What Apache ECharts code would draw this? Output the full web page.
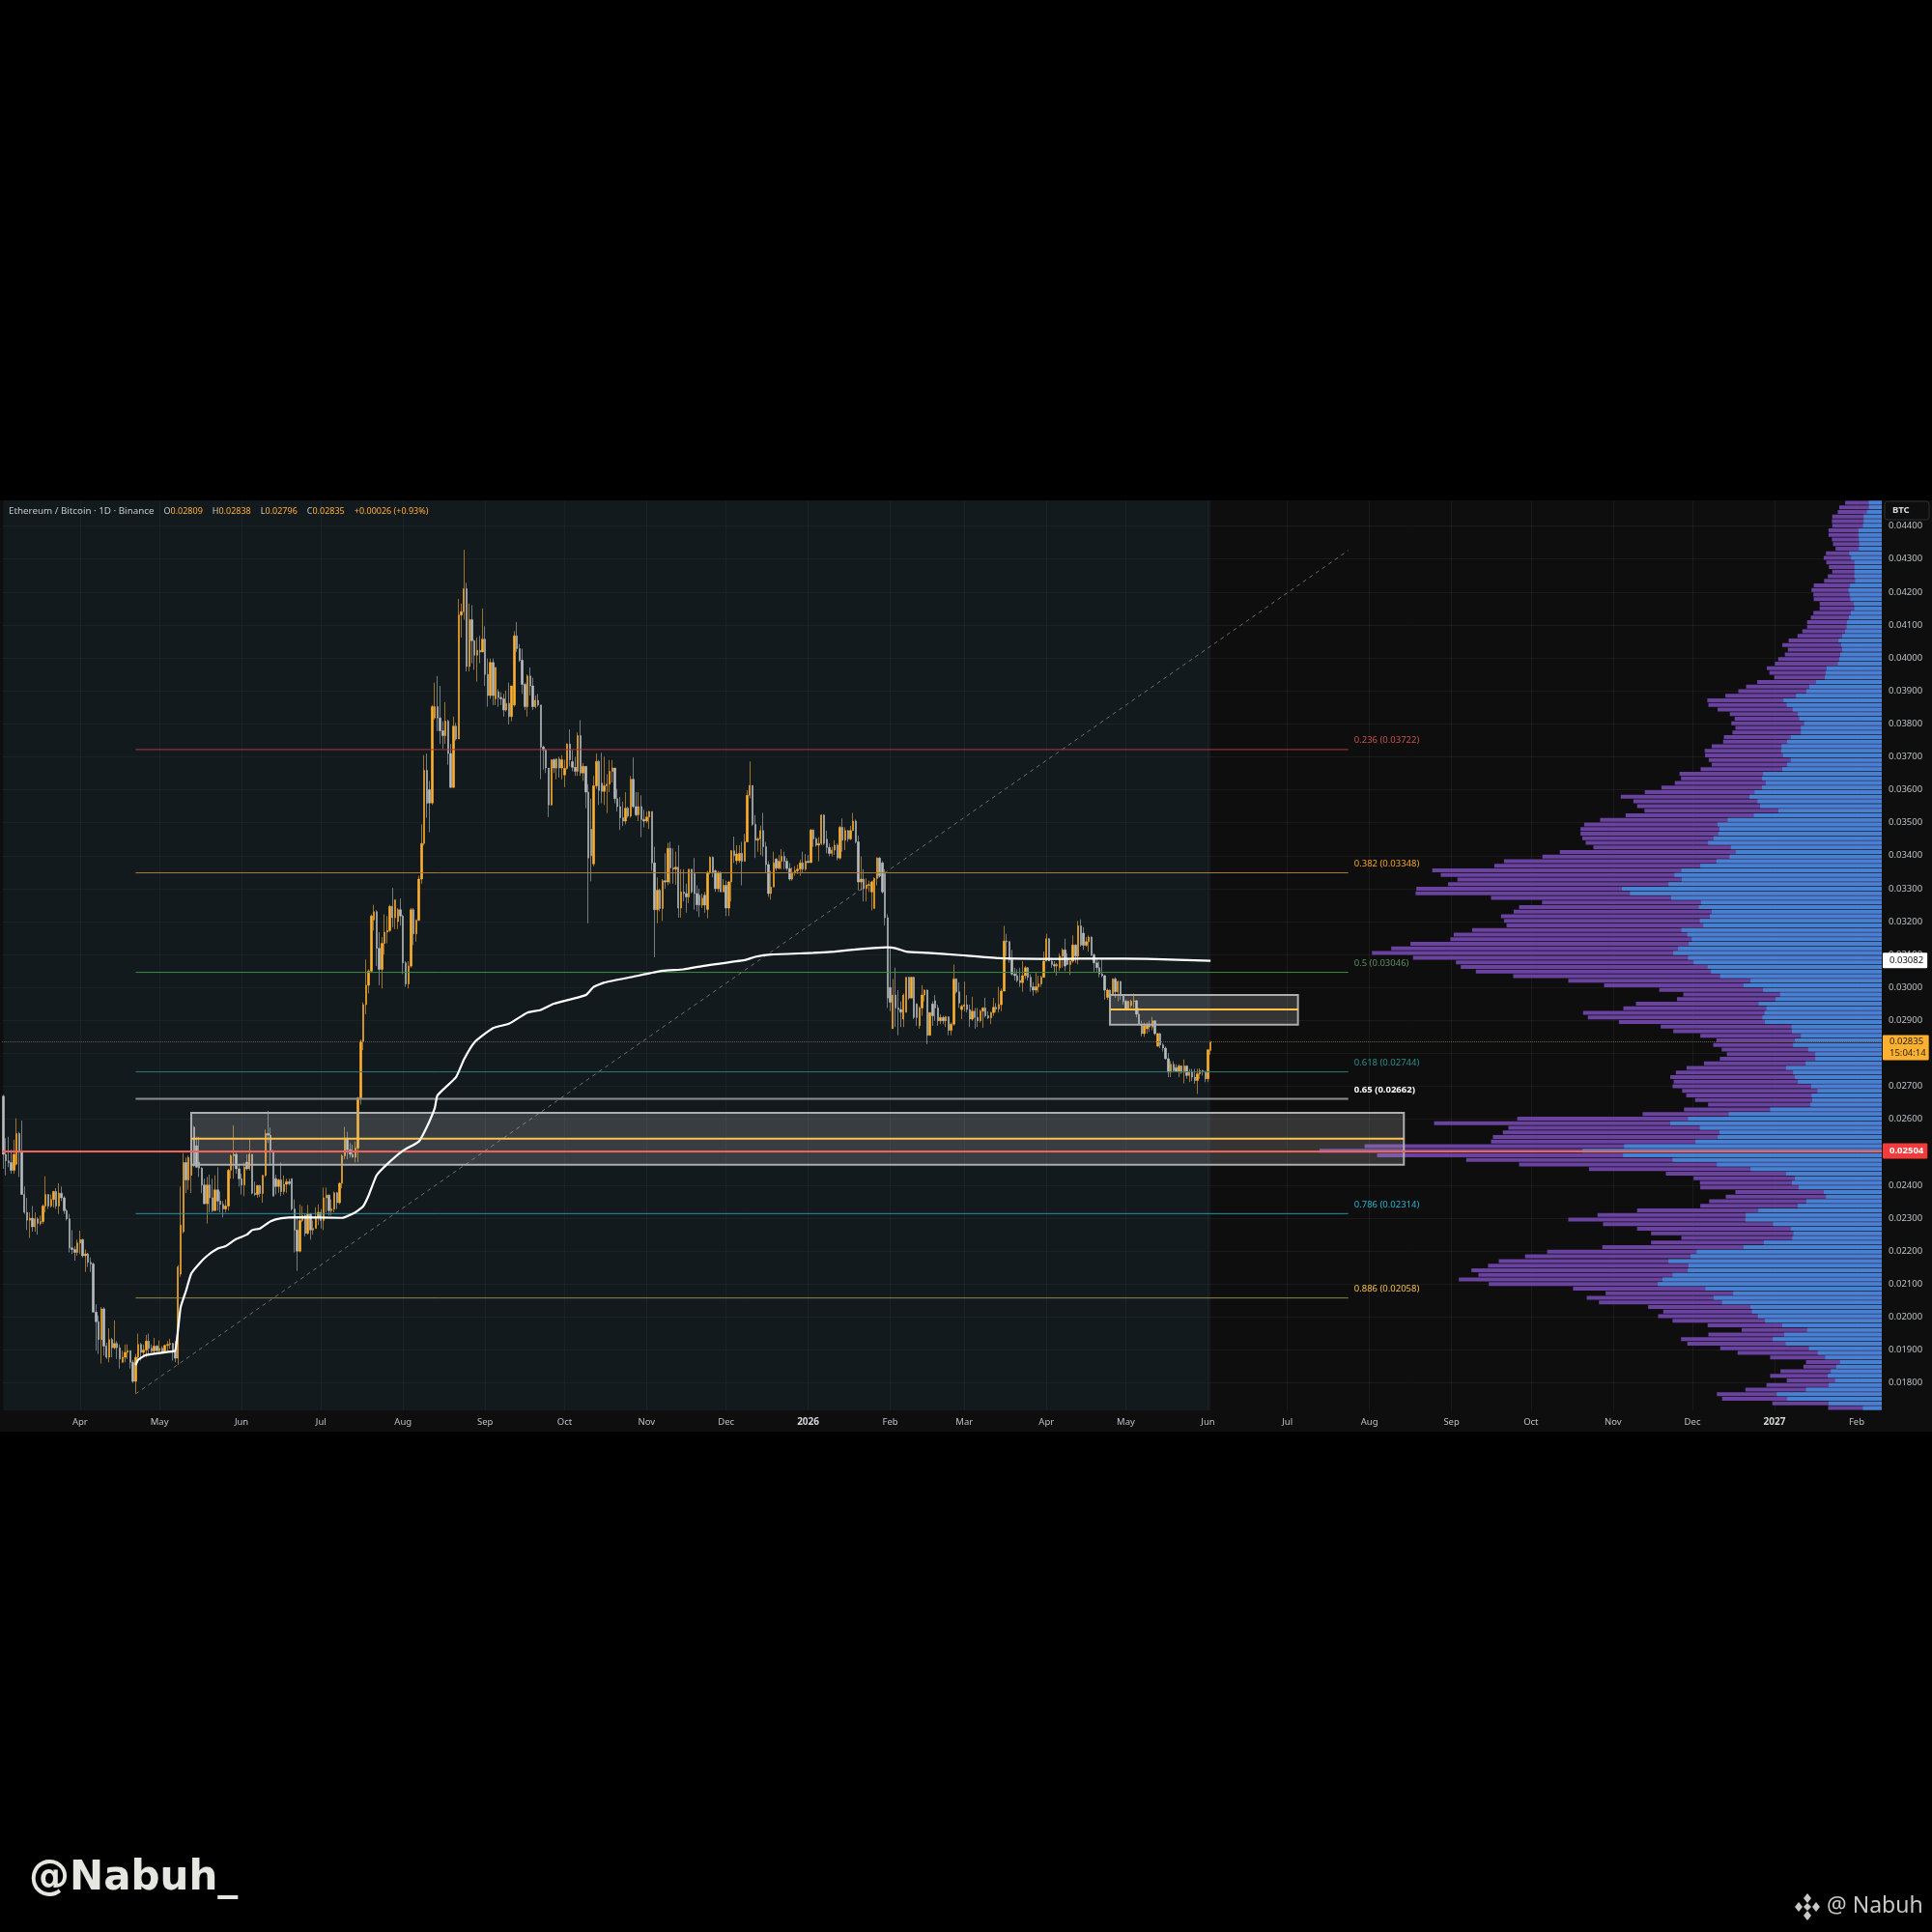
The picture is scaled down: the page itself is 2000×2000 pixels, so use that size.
<!DOCTYPE html>
<html><head><meta charset="utf-8">
<style>html,body{margin:0;background:#000}#c{width:2000px;height:2000px}</style>
<script src="https://cdn.jsdelivr.net/npm/echarts@6/dist/echarts.min.js"></script>
</head><body><div id="c"></div>
<script>
// All prices below are in 1e-5 BTC unless stated otherwise. First candle: 2025-03-03.
const candleOpen=[2670,2494,2474,2469,2445,2464,2557,2503,2372,2318,
2294,2300,2274,2298,2284,2290,2337,2372,2337,2357,
2381,2337,2376,2362,2323,2298,2210,2205,2196,2225,
2235,2186,2192,2166,2161,2015,1986,1932,2025,1912,
1878,1932,1907,1920,1907,1863,1878,1893,1898,1863,
1805,1878,1917,1893,1900,1927,1905,1897,1912,1898,
1905,1893,1914,1917,1920,1897,1875,2130,2259,2469,
2416,2430,2576,2520,2470,2452,2401,2344,2401,2362,
2323,2386,2352,2342,2328,2337,2445,2489,2494,2450,
2420,2401,2470,2450,2494,2376,2372,2399,2375,2430,
2557,2552,2503,2420,2396,2416,2381,2403,2411,2420,
2328,2264,2200,2293,2308,2254,2313,2264,2269,2303,
2318,2293,2362,2370,2323,2328,2377,2347,2406,2489,
2543,2508,2494,2485,2513,2665,2837,2948,3007,3050,
3205,3230,3119,3055,3134,3168,3173,3246,3212,3200,
3236,3217,3075,3011,3065,3236,3163,3204,3329,3437,
3659,3600,3560,3818,3852,3818,3779,3764,3808,3710,
3607,3793,3754,4130,4140,4210,3974,4116,4052,4008,
4023,4018,4057,3950,3886,3986,3876,3897,3880,3876,
3842,3862,3822,3857,4067,4028,3993,3920,3852,3945,
3915,3852,3871,3857,3730,3720,3666,3554,3691,3666,
3693,3666,3645,3665,3739,3685,3668,3656,3764,3651,
3671,3593,3480,3375,3612,3686,3620,3595,3612,3617,
3656,3666,3573,3549,3515,3505,3544,3520,3632,3549,
3524,3549,3510,3505,3517,3534,3378,3236,3295,3240,
3324,3320,3422,3363,3359,3365,3241,3290,3285,3275,
3359,3345,3285,3280,3250,3280,3237,3349,3395,3354,
3300,3349,3290,3310,3241,3320,3415,3385,3385,3407,
3383,3442,3583,3613,3495,3447,3451,3476,3427,3373,
3285,3305,3390,3362,3383,3398,3383,3361,3329,3349,
3354,3359,3378,3359,3383,3379,3478,3451,3432,3437,
3523,3450,3425,3407,3417,3432,3393,3486,3447,3476,
3451,3476,3505,3442,3320,3329,3300,3310,3290,3240,
3331,3393,3378,3345,3212,3000,2875,2977,2938,2933,
2904,2925,3031,2968,3031,2950,2884,2938,2977,2992,
2855,2950,2960,2938,2899,2909,2899,2911,2870,2889,
3026,2987,2933,2943,2948,2933,2904,2928,2909,2899,
2928,2938,2914,2908,2924,2940,2935,2948,2989,3141,
3139,3085,3041,3036,3021,3015,3036,3060,3031,3002,
2992,3002,3011,3031,3080,3148,3080,3070,3065,3060,
3095,3114,3085,3070,3080,3129,3095,3187,3165,3128,
3139,3153,3099,3075,3060,3041,3036,2970,2992,2977,
3026,2987,3018,2977,2958,2933,2945,2958,2960,2919,
2889,2860,2875,2889,2880,2899,2822,2860,2826,2816,
2784,2743,2767,2757,2745,2762,2743,2762,2733,2745,
2728,2718,2738,2748,2743,2723,2809];
const candleClose=[2494,2474,2469,2445,2494,2557,2503,2372,2318,2294,
2300,2274,2298,2284,2290,2337,2372,2337,2357,2381,
2337,2376,2362,2323,2298,2210,2205,2196,2225,2235,
2186,2192,2166,2161,2015,1986,1932,2025,1912,1878,
1932,1907,1920,1907,1873,1878,1893,1898,1863,1805,
1878,1917,1893,1900,1927,1905,1897,1912,1898,1905,
1893,1914,1917,1920,1897,1875,2152,2279,2469,2416,
2484,2576,2460,2455,2452,2401,2344,2401,2362,2323,
2386,2352,2342,2328,2337,2445,2489,2494,2450,2420,
2401,2455,2450,2494,2376,2372,2399,2375,2430,2557,
2552,2503,2367,2396,2416,2381,2403,2411,2405,2328,
2264,2200,2293,2308,2254,2313,2264,2269,2303,2318,
2293,2362,2370,2323,2328,2377,2347,2406,2489,2543,
2508,2494,2485,2513,2665,2837,2948,3007,3050,3217,
3230,3119,3055,3134,3168,3173,3246,3212,3266,3236,
3217,3075,3011,3065,3236,3163,3204,3329,3437,3659,
3559,3560,3852,3852,3818,3779,3764,3808,3710,3607,
3793,3754,4130,4140,4210,3974,4116,4052,4008,4023,
4018,4057,3950,3886,3986,3886,3971,3880,3876,3842,
3862,3822,3915,4067,4028,3993,3920,3852,3945,3915,
3852,3871,3857,3730,3720,3666,3554,3691,3666,3693,
3666,3691,3665,3739,3691,3668,3656,3764,3651,3671,
3593,3393,3400,3612,3686,3598,3595,3612,3617,3656,
3666,3573,3549,3515,3505,3544,3520,3632,3549,3524,
3549,3510,3505,3517,3534,3378,3236,3295,3240,3324,
3320,3422,3363,3359,3365,3241,3290,3285,3275,3359,
3290,3285,3251,3250,3271,3250,3349,3395,3349,3300,
3349,3290,3310,3241,3320,3415,3400,3405,3407,3383,
3442,3583,3613,3495,3447,3451,3476,3427,3373,3285,
3305,3378,3362,3383,3398,3383,3361,3329,3349,3354,
3359,3378,3359,3383,3379,3478,3451,3432,3437,3523,
3437,3425,3407,3417,3432,3393,3486,3447,3476,3451,
3476,3505,3442,3320,3329,3300,3310,3312,3320,3331,
3393,3339,3290,3212,2968,2955,2977,2938,2933,2925,
2977,3031,2968,3031,2909,2909,2938,2977,2992,2855,
2924,2914,2938,2899,2909,2899,2911,2870,2889,3026,
2987,2953,2943,2948,2933,2904,2928,2909,2899,2928,
2938,2914,2908,2924,2940,2935,2948,2989,3141,3139,
3085,3041,3036,3021,3015,3036,3060,3031,3002,2992,
3002,3011,3031,3080,3148,3080,3070,3065,3070,3095,
3114,3065,3070,3080,3129,3095,3187,3129,3128,3139,
3153,3099,3075,3060,3041,3036,2992,2992,2977,3026,
2987,3018,2977,2958,2933,2958,2958,2960,2919,2889,
2860,2884,2889,2880,2899,2860,2860,2826,2816,2784,
2743,2767,2748,2745,2762,2743,2762,2733,2745,2728,
2718,2738,2748,2743,2723,2811,2835];
const candleLow=[2450,2430,2455,2435,2435,2460,2425,2372,2313,2264,
2240,2259,2259,2250,2278,2283,2318,2328,2332,2333,
2328,2313,2352,2313,2293,2196,2191,2171,2186,2191,
2181,2137,2152,2137,2015,1898,1888,1859,1883,1873,
1863,1878,1902,1873,1844,1861,1863,1873,1844,1800,
1768,1863,1868,1878,1878,1883,1892,1888,1888,1893,
1893,1893,1898,1904,1868,1863,1855,2122,2254,2376,
2386,2376,2455,2452,2425,2376,2342,2284,2318,2318,
2323,2323,2318,2303,2318,2323,2420,2420,2435,2396,
2372,2367,2445,2445,2372,2367,2362,2364,2347,2425,
2528,2460,2367,2372,2377,2367,2372,2377,2400,2323,
2196,2140,2196,2288,2245,2250,2235,2250,2269,2279,
2269,2264,2318,2308,2308,2318,2328,2342,2391,2479,
2479,2484,2484,2469,2470,2645,2810,2919,2982,3045,
3173,3065,3007,2997,3100,3134,3168,3183,3177,3177,
3188,3041,3002,2997,3060,3129,3139,3202,3315,3431,
3515,3471,3554,3813,3778,3739,3725,3739,3676,3607,
3607,3749,3754,4062,4116,3959,3959,3984,3964,3928,
3984,4018,3915,3852,3876,3857,3857,3852,3857,3822,
3837,3798,3808,3852,4018,3988,3891,3842,3822,3886,
3842,3847,3852,3632,3661,3651,3517,3552,3651,3632,
3637,3632,3608,3661,3671,3656,3642,3642,3642,3627,
3544,3195,3322,3368,3603,3554,3559,3554,3529,3593,
3622,3559,3534,3478,3490,3495,3515,3515,3544,3519,
3505,3456,3486,3500,3481,3354,3092,3195,3231,3202,
3300,3310,3315,3315,3312,3212,3212,3261,3227,3256,
3285,3236,3231,3214,3241,3227,3210,3344,3334,3290,
3290,3290,3290,3217,3217,3261,3378,3373,3378,3310,
3383,3442,3574,3490,3393,3412,3402,3398,3349,3275,
3266,3305,3354,3359,3359,3359,3354,3324,3324,3339,
3344,3339,3349,3354,3378,3378,3427,3427,3383,3432,
3432,3407,3398,3398,3402,3386,3388,3412,3417,3442,
3447,3476,3437,3295,3295,3261,3261,3290,3234,3240,
3310,3334,3285,3188,2938,2928,2875,2880,2855,2880,
2880,2924,2963,2968,2904,2884,2875,2914,2958,2828,
2855,2884,2899,2884,2889,2889,2880,2855,2855,2884,
2982,2938,2904,2928,2924,2880,2899,2875,2880,2894,
2878,2909,2904,2889,2914,2924,2924,2928,2989,3095,
3075,3036,3021,3016,3002,2987,3026,3021,2987,2975,
2982,2985,3002,3031,3080,3080,3060,3048,3036,3050,
3060,3050,3068,3038,3075,3075,3070,3124,3114,3124,
3109,3095,3048,3048,3031,3031,2963,2963,2968,2977,
2968,2958,2963,2948,2933,2933,2938,2938,2909,2889,
2852,2850,2860,2865,2870,2855,2820,2816,2806,2782,
2728,2728,2743,2743,2728,2738,2709,2723,2713,2716,
2708,2677,2723,2733,2713,2713,2796];
const candleHigh=[2675,2543,2547,2508,2538,2603,2562,2596,2396,2362,
2318,2337,2318,2303,2308,2342,2427,2372,2372,2383,
2391,2406,2396,2367,2328,2313,2264,2215,2235,2262,
2238,2205,2195,2181,2166,2039,2005,2030,2030,1922,
1966,1937,1990,1927,1917,1898,1917,1917,1898,1870,
1888,1950,1922,1917,1946,1950,1917,1937,1915,1929,
1912,1917,1927,1934,1922,1927,2158,2396,2498,2484,
2490,2616,2580,2547,2547,2455,2420,2425,2432,2420,
2430,2455,2381,2352,2357,2450,2494,2582,2499,2465,
2435,2469,2494,2540,2494,2411,2401,2401,2432,2569,
2626,2575,2508,2432,2420,2469,2430,2420,2420,2420,
2357,2303,2342,2337,2315,2340,2316,2293,2333,2342,
2328,2393,2393,2372,2357,2381,2380,2409,2494,2577,
2562,2528,2523,2533,2668,2842,2955,3085,3055,3222,
3251,3235,3168,3153,3222,3217,3251,3302,3266,3241,
3270,3221,3080,3080,3241,3241,3207,3339,3495,3705,
3710,3627,3857,3925,3945,3915,3808,3866,3813,3739,
3822,3803,4179,4165,4328,4228,4165,4160,4055,4062,
4067,4150,4096,3998,3998,3998,3972,3905,3896,3891,
3901,3925,3915,4081,4109,4042,4028,3925,3950,3971,
3940,3886,3891,3857,3734,3725,3666,3691,3695,3695,
3700,3705,3691,3741,3783,3720,3700,3774,3811,3681,
3671,3617,3573,3642,3710,3691,3712,3700,3647,3690,
3690,3666,3603,3578,3564,3593,3549,3642,3698,3593,
3593,3583,3539,3534,3536,3534,3427,3334,3300,3329,
3407,3439,3442,3422,3412,3432,3359,3359,3315,3359,
3359,3393,3310,3300,3285,3290,3354,3398,3398,3359,
3354,3352,3329,3324,3324,3417,3458,3432,3432,3442,
3466,3598,3686,3613,3523,3456,3491,3530,3442,3383,
3354,3412,3392,3402,3420,3412,3393,3378,3364,3368,
3373,3388,3412,3405,3402,3481,3480,3456,3456,3525,
3526,3476,3437,3427,3447,3437,3491,3513,3486,3478,
3491,3530,3510,3461,3398,3359,3331,3324,3324,3334,
3395,3395,3383,3359,3222,3119,3026,3060,2992,2958,
2982,3031,3033,3033,3033,2952,2943,3007,2995,2994,
2924,2958,2977,2948,2919,2914,2914,2913,2894,3070,
3028,3016,2948,3018,2977,2948,2972,2938,2938,2933,
2940,2969,2928,2926,2968,2953,3002,2997,3187,3163,
3141,3114,3060,3055,3060,3080,3065,3062,3041,3016,
3046,3036,3036,3109,3163,3150,3090,3080,3075,3104,
3119,3148,3104,3085,3158,3131,3202,3207,3183,3153,
3158,3155,3104,3085,3080,3085,3038,2997,2994,3028,
3031,3021,3020,2979,2963,2960,2963,2982,2962,2938,
2899,2894,2894,2899,2911,2900,2862,2862,2831,2821,
2801,2777,2777,2767,2767,2764,2782,2764,2753,2753,
2753,2753,2755,2750,2748,2813,2838];

// Anchored VWAP: days after 2025-04-01, and its value
const avwapDay=[21,22,25,35,36,37,38,40,42,45,48,52,55,59,63,65,68,72,76,82,99,104,107,109,112,116,122,128,131,134,135,142,145,149,156,162,169,174,179,191,194,198,209,220,228,235,251,255,261,277,285,295,305,308,312,320,331,347,370,386,403,427];
const avwapValue=[1854,1871,1885,1896,1898,1961,2030,2079,2132,2162,2186,2208,2215,2237,2250,2264,2269,2291,2300,2303,2301,2318,2337,2369,2430,2464,2505,2533,2577,2635,2673,2728,2782,2834,2877,2890,2924,2932,2951,2977,3002,3015,3033,3051,3055,3065,3083,3093,3100,3105,3109,3117,3122,3119,3109,3105,3099,3089,3087,3088,3087,3081];

// Volume profile, top row to bottom row (arbitrary volume units)
const profileTotal=[99,115,119,134,135,134,144,144,135,132,125,151,157,150,143,134,146,156,184,190,185,184,168,168,185,192,202,202,215,228,252,269,254,262,280,289,311,304,291,337,367,388,423,472,469,444,411,398,407,396,404,427,429,460,479,478,468,460,490,547,543,560,596,641,706,672,662,642,693,762,805,815,815,810,801,780,871,918,1022,1048,1216,1193,1148,1173,1259,1261,1057,919,981,996,1030,1022,1015,1108,1158,1167,1275,1327,1379,1268,1152,1139,1098,997,848,751,602,537,554,665,699,808,795,711,598,564,491,447,456,433,419,438,481,528,557,572,563,566,540,529,505,470,535,647,986,1211,1010,1025,1052,1057,1399,1521,1365,1124,981,792,584,509,492,491,396,422,467,491,662,769,848,754,662,624,542,624,756,905,965,1036,1065,1110,1091,1144,1063,835,747,798,765,632,591,605,566,471,379,469,543,526,437,390,302,205,212,274,302,257,312,369,446,432,296,145];
const profileUp=[35,35,40,49,49,51,63,63,62,61,62,88,83,74,74,74,74,72,86,90,87,85,76,74,84,89,94,95,99,107,117,110,107,112,115,119,149,152,154,178,196,204,232,266,257,241,227,223,210,219,219,246,256,271,272,267,246,256,269,321,324,314,324,344,358,336,329,280,346,417,444,439,442,455,470,408,395,412,447,491,542,561,541,577,703,681,570,489,495,460,465,492,483,542,526,514,522,551,564,524,509,471,462,437,355,374,321,275,287,333,312,317,323,316,244,243,219,235,240,199,180,180,206,259,240,235,227,191,174,190,188,193,302,414,524,572,492,439,444,504,697,810,700,566,446,355,259,235,243,225,157,151,204,227,334,368,369,294,246,239,242,319,374,501,517,577,523,525,566,593,606,477,402,455,432,355,351,335,316,269,202,264,295,260,197,173,153,113,123,138,146,126,144,205,284,256,144,51];

// Fibonacci levels (price in BTC)
const fibRatio=['0.236','0.382','0.5','0.618','0.65','0.786','0.886'];
const fibPrice=[0.03722,0.03348,0.03046,0.02744,0.02662,0.02314,0.02058];
const fibLine=['#b0383f','#b5782c','#3f8a45','#2f7a78','#8a8e90','#2295a8','#8f8a40'];
const fibText=['#c2544f','#f5a623','#5f8f60','#2a8f8f','#ffffff','#22b5cf','#f7c04a'];
const fibFrom='2025-04-22', fibTo='2026-07-24';
const fibBase=0.01767, fibTop=0.04326;
const lastPrice=0.02835, pocPrice=0.02504, avwapLast=0.03082;
const zones=[
 {from:'2025-05-13',to:'2026-08-14',top:0.02620,mid:0.02541,bottom:0.02462},
 {from:'2026-04-25',to:'2026-07-05',top:0.02977,mid:0.02933,bottom:0.02887}];
const priceTicks=[0.018,0.019,0.020,0.021,0.022,0.023,0.024,0.025,0.026,0.027,0.028,0.029,0.030,0.031,0.032,0.033,0.034,0.035,0.036,0.037,0.038,0.039,0.040,0.041,0.042,0.043,0.044];
const tickDates=['2025-04-01','2025-05-01','2025-06-01','2025-07-01','2025-08-01','2025-09-01','2025-10-01','2025-11-01','2025-12-01','2026-01-01','2026-02-01','2026-03-01','2026-04-01','2026-05-01','2026-06-01','2026-07-01','2026-08-01','2026-09-01','2026-10-01','2026-11-01','2026-12-01','2027-01-01','2027-02-01'];
const tickLabels=['Apr','May','Jun','Jul','Aug','Sep','Oct','Nov','Dec','2026','Feb','Mar','Apr','May','Jun','Jul','Aug','Sep','Oct','Nov','Dec','2027','Feb'];

const FONT='"Noto Sans"';
const day0=Date.UTC(2025,2,3);
const dates=[];for(let i=0;i<710;i++)dates.push(new Date(day0+i*864e5).toISOString().slice(0,10));
const tickMap={};tickDates.forEach((d,i)=>tickMap[d]=tickLabels[i]);
const isTick=(i,v)=>tickMap[v]!==undefined;
const P=v=>v/1e5;
const candles=candleOpen.map((o,i)=>[P(o),P(candleClose[i]),P(candleLow[i]),P(candleHigh[i])]);
const avwap=avwapDay.map((d,i)=>[dates[d+29],P(avwapValue[i])]);
const rows=profileTotal.map((_,i)=>String(i));

const series=[];
series.push({type:'bar',xAxisIndex:1,yAxisIndex:1,data:profileTotal,barWidth:4,barGap:'-100%',itemStyle:{color:'#6a429f'},silent:true,z:1,animation:false});
series.push({type:'bar',xAxisIndex:1,yAxisIndex:1,data:profileUp,barWidth:4,barGap:'-100%',itemStyle:{color:'#4782d2'},silent:true,z:1,animation:false});
series.push({type:'candlestick',data:candles,barWidth:1.9,z:3,animation:false,silent:true,
 itemStyle:{color:'#ffb02e',color0:'#b9bdbf',borderColor:'#ffb02e',borderColor0:'#b9bdbf',borderWidth:0.6},
 markArea:{silent:true,z:1,data:[[{xAxis:dates[0],yAxis:0.04478,itemStyle:{color:'rgba(30,52,64,0.32)'}},{xAxis:'2026-06-02',yAxis:0.01717}]]},
 markLine:{silent:true,symbol:'none',animation:false,z:6,precision:5,data:[
  {yAxis:avwapLast,lineStyle:{color:'rgba(0,0,0,0)',width:0},label:{position:'end',distance:1,formatter:'0.03082',backgroundColor:'#ffffff',color:'#111',fontSize:9.5,fontFamily:FONT,padding:[3,4,3,7],borderRadius:1}},
  {yAxis:lastPrice,lineStyle:{color:'#6e5a3c',type:'dotted',width:1},label:{position:'end',distance:1,offset:[0,6],formatter:'0.02835\n15:04:14',backgroundColor:'#ffb02e',color:'#222',fontSize:9.5,fontFamily:FONT,lineHeight:12,padding:[1,3,1,7],borderRadius:1}},
  {yAxis:pocPrice,lineStyle:{color:'#f0625a',type:'solid',width:2},label:{position:'end',distance:1,formatter:'0.02504',backgroundColor:'#f23b3b',color:'#fff',fontWeight:'bold',fontSize:9.5,fontFamily:FONT,padding:[3,4,3,7],borderRadius:1}}
 ]}});
series.push({type:'line',data:[[fibFrom,fibBase],[fibTo,fibTop]],showSymbol:false,silent:true,z:2,animation:false,lineStyle:{color:'rgba(175,180,180,0.55)',width:1,type:[4,4]}});
fibPrice.forEach((p,i)=>series.push({type:'line',silent:true,z:4,animation:false,symbol:'none',lineStyle:{color:fibLine[i],width:i===4?2:1},
 data:[[fibFrom,p],[fibTo,p]],
 endLabel:{show:true,distance:0,offset:[6,-9.5],formatter:fibRatio[i]+' ('+p.toFixed(5)+')',color:fibText[i],fontSize:9.5,fontFamily:FONT,fontWeight:i===4?'bold':'normal'}}));
zones.forEach(zn=>{
 series.push({type:'line',silent:true,z:5,animation:false,symbol:'none',lineStyle:{color:'#ffc24d',width:2},data:[[zn.from,zn.mid],[zn.to,zn.mid]],
  markArea:{silent:true,z:4,data:[[{xAxis:zn.from,yAxis:zn.top,itemStyle:{color:'rgba(205,205,205,0.2)',borderColor:'#adadad',borderWidth:2}},{xAxis:zn.to,yAxis:zn.bottom}]]}});
});
series.push({type:'line',data:avwap,symbol:'none',silent:true,z:7,animation:false,lineStyle:{color:'#ffffff',width:2.2},smooth:0.15});

const chart=echarts.init(document.getElementById('c'),null,{renderer:'canvas',width:2000,height:2000});
chart.setOption({
 animation:false,backgroundColor:'#000',
 graphic:[
  {type:'rect',z:-10,silent:true,shape:{x:0,y:518,width:2000,height:964},style:{fill:'#0e0e0e'}},
  {type:'rect',z:20,silent:true,shape:{x:1951,y:519,width:46,height:19,r:3},style:{fill:'#0e0e0e',stroke:'#2c2e30',lineWidth:1}},
  {type:'text',z:21,silent:true,x:1959,y:523.5,style:{text:'BTC',fill:'#d6d8dc',fontSize:9.5,fontFamily:FONT,fontWeight:'bold'}},
  {type:'text',z:21,silent:true,x:30,y:1924,style:{text:'@Nabuh_',fill:'#e6e6e0',fontSize:42,fontFamily:'"DejaVu Sans"',fontWeight:'bold'}},
  {type:'text',z:21,silent:true,x:1891,y:1962,style:{text:'@ Nabuh',fill:'#c9c9c5',fontSize:23,fontFamily:'"Noto Sans"'}},
  {type:'polygon',z:21,silent:true,shape:{points:[[1871,1960],[1875,1965],[1871,1970],[1867,1965]]},style:{fill:'#c9c9c5'}},
  {type:'polygon',z:21,silent:true,shape:{points:[[1871,1978],[1875,1983],[1871,1988],[1867,1983]]},style:{fill:'#c9c9c5'}},
  {type:'polygon',z:21,silent:true,shape:{points:[[1862,1969],[1866,1974],[1862,1979],[1858,1974]]},style:{fill:'#c9c9c5'}},
  {type:'polygon',z:21,silent:true,shape:{points:[[1880,1969],[1884,1974],[1880,1979],[1876,1974]]},style:{fill:'#c9c9c5'}},
  {type:'polygon',z:21,silent:true,shape:{points:[[1871,1970],[1875,1974],[1871,1978],[1867,1974]]},style:{fill:'#c9c9c5'}}
 ],
 title:{left:9,top:520,padding:0,text:'{a|Ethereum / Bitcoin · 1D · Binance}  {c|O}{b|0.02809}  {c|H}{b|0.02838}  {c|L}{b|0.02796}  {c|C}{b|0.02835}  {b|+0.00026 (+0.93%)}',
  textStyle:{fontWeight:'normal',rich:{a:{color:'#c4c7ce',fontSize:9.8,fontWeight:'normal',fontFamily:FONT},c:{color:'#c4c7ce',fontSize:9,fontWeight:'normal',fontFamily:FONT},b:{color:'#ffae3a',fontSize:9,fontWeight:'normal',fontFamily:FONT}}}},
 grid:[{left:2,top:518,width:1946,height:942,containLabel:false},{left:2,top:518,width:1946,height:942,containLabel:false}],
 xAxis:[
  {type:'category',gridIndex:0,data:dates,boundaryGap:true,axisLine:{show:false},
   axisTick:{show:false,alignWithLabel:true,interval:isTick},
   splitLine:{show:true,alignWithLabel:true,interval:isTick,lineStyle:{color:'rgba(255,255,255,0.05)',width:1}},
   axisLabel:{interval:isTick,margin:7,hideOverlap:false,fontSize:9.5,fontFamily:FONT,color:'#bdc0c6',formatter:v=>{const t=tickMap[v];return /^\d/.test(t)?'{y|'+t+'}':t},rich:{y:{fontWeight:'bold',fontSize:10,color:'#d0d3d8',fontFamily:FONT}}}},
  {type:'value',gridIndex:1,inverse:true,min:0,max:5085,show:false,splitLine:{show:false}}
 ],
 yAxis:[
  {type:'value',gridIndex:0,position:'right',scale:true,min:0.01717,max:0.04478,axisLine:{show:false},
   axisTick:{show:false,customValues:priceTicks},
   splitLine:{show:true,lineStyle:{color:'rgba(255,255,255,0.05)',width:1}},
   axisLabel:{customValues:priceTicks,margin:7,padding:[2,0,0,0],fontSize:9.5,fontFamily:FONT,color:'#bdc0c6',formatter:v=>v.toFixed(5)}},
  {type:'category',gridIndex:1,inverse:true,data:rows,show:false,boundaryGap:true}
 ],
 series
});
</script></body></html>
